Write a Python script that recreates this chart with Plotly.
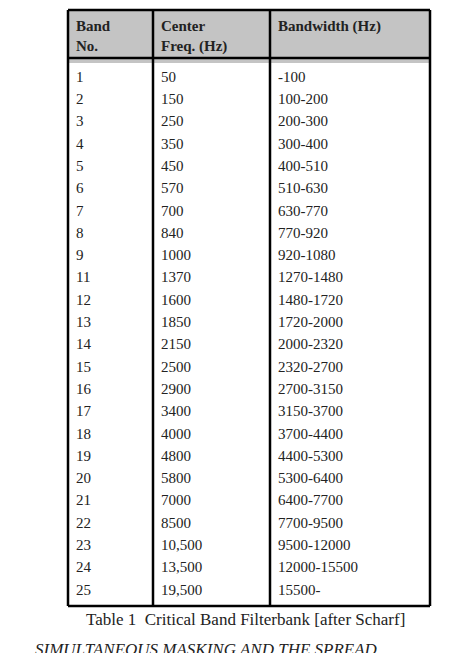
import plotly.graph_objects as go

band_no = ["1", "2", "3", "4", "5", "6", "7", "8", "9", "11", "12", "13", "14", "15", "16",
           "17", "18", "19", "20", "21", "22", "23", "24", "25"]
center_freq = ["50", "150", "250", "350", "450", "570", "700", "840", "1000", "1370", "1600",
               "1850", "2150", "2500", "2900", "3400", "4000", "4800", "5800", "7000", "8500",
               "10,500", "13,500", "19,500"]
bandwidth = ["-100", "100-200", "200-300", "300-400", "400-510", "510-630", "630-770", "770-920",
             "920-1080", "1270-1480", "1480-1720", "1720-2000", "2000-2320", "2320-2700",
             "2700-3150", "3150-3700", "3700-4400", "4400-5300", "5300-6400", "6400-7700",
             "7700-9500", "9500-12000", "12000-15500", "15500-"]
headers = ["<b>Band<br>No.</b>", "<b>Center<br>Freq. (Hz)</b>", "<b>Bandwidth (Hz)</b>"]

W, H = 474, 653
x0, x1, x2, x3 = 60, 145, 262, 422
y_top, y_bot = 2, 598

fig = go.Figure(go.Table(
    domain=dict(x=[x0 / W, x3 / W], y=[1 - y_bot / H, 1 - y_top / H]),
    columnwidth=[x1 - x0, x2 - x1, x3 - x2],
    header=dict(values=headers, fill_color="#c4c4c4", height=48, align="left",
                line=dict(color="#c4c4c4", width=0),
                font=dict(family="Liberation Serif", size=15, color="#222")),
    cells=dict(values=[band_no, center_freq, bandwidth], fill_color="white", height=22.3,
               align="left", line=dict(color="white", width=0),
               font=dict(family="Liberation Serif", size=15, color="#222")),
))

def py(y):
    return 1 - y / H

for x in [x0, x1, x2, x3]:
    fig.add_shape(type="line", xref="paper", yref="paper", x0=x / W, x1=x / W,
                  y0=py(y_bot), y1=py(y_top), line=dict(color="black", width=2.5))
for y in [y_top, 50, y_bot]:
    fig.add_shape(type="line", xref="paper", yref="paper", x0=x0 / W, x1=x3 / W,
                  y0=py(y), y1=py(y), line=dict(color="black", width=2.5))

fig.add_annotation(text="Table 1  Critical Band Filterbank [after Scharf]", xref="paper", yref="paper",
                   x=0.5, y=py(611), showarrow=False, xanchor="center", yanchor="middle",
                   font=dict(family="Liberation Serif", size=17, color="#222"))
fig.add_annotation(text="<i>SIMULTANEOUS MASKING AND THE SPREAD</i>", xref="paper", yref="paper",
                   x=25 / W, y=py(641), showarrow=False, xanchor="left", yanchor="middle",
                   font=dict(family="Liberation Serif", size=17, color="#222"))

fig.update_layout(width=W, height=H, margin=dict(l=0, r=0, t=0, b=0),
                  paper_bgcolor="white", plot_bgcolor="white")
fig.write_html("out.html")
